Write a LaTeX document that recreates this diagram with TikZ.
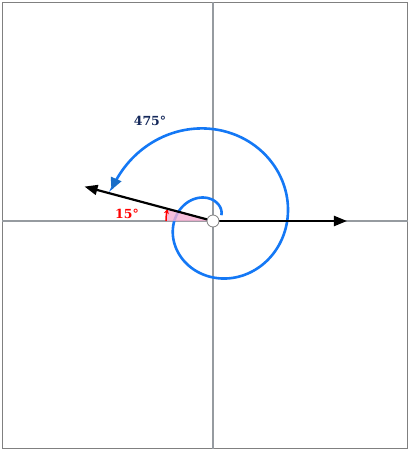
\documentclass[tikz,border=0pt]{standalone}
\usepackage{fontspec}
\setmainfont{DejaVu Serif}
\usetikzlibrary{arrows.meta}
\definecolor{spiralblue}{RGB}{20,120,245}
\definecolor{tipblue}{RGB}{25,110,200}
\definecolor{navy}{RGB}{20,40,90}
\definecolor{pinkfill}{RGB}{245,175,210}
\definecolor{axisgray}{RGB}{150,155,160}
\definecolor{framegray}{RGB}{128,128,128}
\tikzset{
  axisline/.style={draw=axisgray, line width=1.2pt},
  ray/.style={draw=black, line width=2.2pt, -{Triangle[length=13pt,width=10pt]}},
  spiral/.style={draw=spiralblue, line width=2.6pt, -{Triangle[length=12pt,width=11pt,color=tipblue]}},
  lab/.style={font=\fontsize{12.5}{15}\selectfont\bfseries, inner sep=0pt},
}
\begin{document}
\begin{tikzpicture}[x=1pt,y=1pt]
  \useasboundingbox (-213,-232) rectangle (197,221);
  \draw[draw=framegray, line width=1.6pt] (-210.5,-227.5) rectangle (194.5,218.5);
  \coordinate (O) at (0,0);
  \coordinate (L) at (-210.5,0);
  \coordinate (R) at (194.5,0);
  \coordinate (T) at (0,218.5);
  \coordinate (B) at (0,-227.5);
  \draw[axisline] (L) -- (R);
  \draw[axisline] (B) -- (T);
  % spiral
  \draw[spiral] plot[domain=35:523, samples=240, variable=\t, smooth] (\t:{3.25+0.197*\t});
  % reference angle sector
  \fill[pinkfill, opacity=0.8] (O) -- (180:47) arc[start angle=180, end angle=165, radius=47] -- cycle;
  \draw[red, line width=1.5pt, -{Stealth[length=5pt,width=5pt]}] (180:47) arc[start angle=180, end angle=165, radius=47];
  % rays
  \coordinate (P) at (134,0);
  \coordinate (Q) at (165:133);
  \draw[ray] (O) -- (P);
  \draw[ray] (O) -- (Q);
  \node[circle, draw=gray, fill=white, line width=0.8pt, minimum size=12pt, inner sep=0pt] (C) at (O) {};
  \node[lab, text=red] (a15) at (-86,7) {15°};
  \node[lab, text=navy] (a475) at (-63,100) {475°};
\end{tikzpicture}
\end{document}
